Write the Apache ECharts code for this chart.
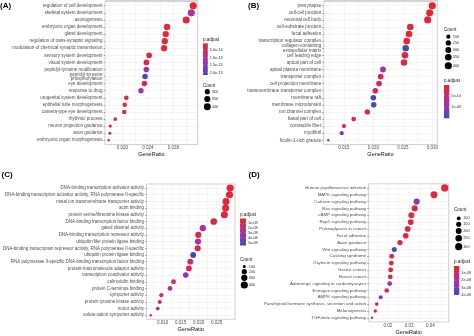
<!DOCTYPE html>
<html><head><meta charset="utf-8">
<script src="https://cdn.jsdelivr.net/npm/echarts@6/dist/echarts.min.js"></script>
<style>html,body{margin:0;padding:0;background:#fff}#c{width:474px;height:336px}</style>
</head><body><div id="c"></div>
<script>
// ---------------- Panel A (GO BP) ----------------
const termsA = ["regulation of cell development","skeletal system development","axonogenesis","embryonic organ development","gland development","regulation of trans-synaptic signaling","modulation of chemical synaptic transmission","sensory system development","visual system development","peptidyl-tyrosine modification","peptidyl-tyrosine\nphosphorylation","eye development","response to drug","urogenital system development","epithelial tube morphogenesis","camera-type eye development","rhythmic process","neuron projection guidance","axon guidance","embryonic organ morphogenesis"];
const ratioA = [0.0311,0.0308,0.0300,0.0270,0.0268,0.02665,0.02654,0.0242,0.02377,0.02377,0.02356,0.02346,0.02293,0.02063,0.02038,0.02031,0.0189,0.01812,0.01807,0.01787];
const countA = [420,416,405,365,362,360,358,327,321,321,318,317,310,279,275,274,255,245,244,241];
const padjA = [1.2e-14,1.05e-13,2.0e-14,1.5e-14,2.5e-14,2.0e-14,1.8e-14,2.5e-14,3.0e-14,1.25e-13,2.05e-13,3.0e-14,1.15e-13,2.5e-14,2.8e-14,3.0e-14,7.5e-14,2.0e-14,2.5e-14,8.5e-14];
const xTicksA = [0.020,0.024,0.028];
const xMinorA = [0.018,0.022,0.026,0.030];
const countBreaksA = [300,350,400];
const padjBreaksA = [5e-14,1e-13,1.5e-13,2e-13];
const padjLabelsA = ["5.0e-14","1.0e-13","1.5e-13","2.0e-13"];

// ---------------- Panel B (GO CC) ----------------
const termsB = ["presynapse","cell-cell junction","neuronal cell body","cell-substrate junction","focal adhesion","transcription regulator complex","collagen-containing\nextracellular matrix","cell leading edge","apical part of cell","apical plasma membrane","transporter complex","cell projection membrane","transmembrane transporter complex","membrane raft","membrane microdomain","ion channel complex","basal part of cell","contractile fiber","myofibril","ficolin-1-rich granule"];
const ratioB = [0.0300,0.02956,0.02922,0.02627,0.02605,0.02566,0.02549,0.02537,0.0252,0.02164,0.02125,0.02097,0.02034,0.0200,0.02007,0.01898,0.01668,0.01503,0.01464,0.01237];
const countB = [405,399,394,355,352,346,344,342,340,292,287,283,275,270,271,256,225,203,198,167];
const padjB = [5e-11,6e-11,8e-11,1.0e-10,1.2e-10,1.5e-10,1.4e-9,2.0e-10,2.2e-10,8.5e-10,3.0e-10,4.0e-10,3.0e-10,1.4e-9,1.38e-9,2.5e-10,3.0e-10,4.5e-10,1.0e-9,1.0e-9];
const xTicksB = [0.015,0.020,0.025,0.030];
const xMinorB = [0.0125,0.0175,0.0225,0.0275];
const countBreaksB = [200,250,300,350,400];
const padjBreaksB = [5e-10,1e-9];
const padjLabelsB = ["5e-10","1e-09"];

// ---------------- Panel C (GO MF) ----------------
const termsC = ["DNA-binding transcription activator activity","DNA-binding transcription activator activity, RNA polymerase II-specific","metal ion transmembrane transporter activity","actin binding","protein serine/threonine kinase activity","DNA-binding transcription factor binding","gated channel activity","DNA-binding transcription repressor activity","ubiquitin-like protein ligase binding","DNA-binding transcription repressor activity, RNA polymerase II-specific","ubiquitin protein ligase binding","RNA polymerase II-specific DNA-binding transcription factor binding","protein-macromolecule adaptor activity","transcription coactivator activity","calmodulin binding","protein C-terminus binding","symporter activity","protein tyrosine kinase activity","motor activity","solute:cation symporter activity"];
const ratioC = [0.02875,0.02857,0.0276,0.0275,0.02715,0.0242,0.02117,0.0199,0.01983,0.01973,0.01849,0.01768,0.01731,0.01643,0.01303,0.01206,0.00965,0.0092,0.00866,0.0067];
const countC = [403,400,386,385,380,339,296,279,278,276,259,248,242,230,182,169,135,129,121,94];
const padjC = [2e-9,3e-9,4e-9,3e-9,5e-9,6e-9,2.8e-8,8e-9,2.8e-8,9e-9,5.4e-8,1.0e-8,1.1e-8,3.8e-8,1.2e-8,3.0e-8,1.2e-8,1.3e-8,2.0e-8,2.2e-8];
const xTicksC = [0.010,0.015,0.020,0.025];
const xMinorC = [0.0075,0.0125,0.0175,0.0225,0.0275];
const countBreaksC = [100,200,300,400];
const padjBreaksC = [1e-8,2e-8,3e-8,4e-8,5e-8];
const padjLabelsC = ["1e-08","2e-08","3e-08","4e-08","5e-08"];

// ---------------- Panel D (KEGG) ----------------
const termsD = ["Human papillomavirus infection","MAPK signaling pathway","Calcium signaling pathway","Ras signaling pathway","cAMP signaling pathway","Rap1 signaling pathway","Proteoglycans in cancer","Focal adhesion","Axon guidance","Wnt signaling pathway","Cushing syndrome","Oxytocin signaling pathway","Gastric cancer","Breast cancer","Adrenergic signaling in cardiomyocytes","Estrogen signaling pathway","AMPK signaling pathway","Parathyroid hormone synthesis, secretion and action","Melanogenesis","TGF-beta signaling pathway"];
const ratioD = [0.04676,0.04171,0.03354,0.0326,0.0310,0.03071,0.0293,0.02835,0.02566,0.02297,0.02175,0.02156,0.02127,0.02109,0.0208,0.01939,0.01656,0.01467,0.0140,0.01245];
const countD = [304,271,218,212,202,200,190,184,167,149,141,140,138,137,135,126,108,95,91,81];
const padjD = [1e-9,2e-9,2.6e-8,6e-9,3e-9,3e-9,4e-9,4e-9,5e-9,3.9e-8,5e-9,5e-9,5e-9,6e-9,2.6e-8,6e-9,2.8e-8,6e-9,6e-9,3.6e-8];
const xTicksD = [0.02,0.03,0.04];
const xMinorD = [0.015,0.025,0.035,0.045];
const countBreaksD = [100,150,200,250,300];
const padjBreaksD = [1e-8,2e-8,3e-8,4e-8];
const padjLabelsD = ["1e-08","2e-08","3e-08","4e-08"];

// ---------------- styling / layout ----------------
const FONT = "Liberation Sans, Arial, sans-serif";
const palette = ['#e4272d','#cf2a62','#b02ea6','#7d3bb5','#3b4dab'];
const panels = [
  {letter:'(A)', lx:0, ly:6, terms:termsA, ratio:ratioA, count:countA, padj:padjA, ticks:xTicksA, minor:xMinorA, dec:3,
   grid:{left:105, top:1.5, width:92.7, height:143}, xmin:0.0173, xmax:0.0318, pmin:6e-15, pmax:2.15e-13, fs:4.5, strip:true,
   pleg:{x:203, ty:40, top:43.3, h:31.7, w:4.8, breaks:padjBreaksA, labels:padjLabelsA},
   cleg:{x:203, ty:85.7, cx:207.3, ys:[91.7,99,106.7], breaks:countBreaksA}},
  {letter:'(B)', lx:248, ly:5.5, terms:termsB, ratio:ratioB, count:countB, padj:padjB, ticks:xTicksB, minor:xMinorB, dec:3,
   grid:{left:323.7, top:1.5, width:113.6, height:143}, xmin:0.01159, xmax:0.03085, pmin:4e-11, pmax:1.47e-9, fs:4.6, strip:true,
   pleg:{x:444, ty:81, top:85, h:33.3, w:5.3, breaks:padjBreaksB, labels:padjLabelsB},
   cleg:{x:444, ty:30, cx:448.3, ys:[36.7,42.9,50,57.3,65.7], breaks:countBreaksB}},
  {letter:'(C)', lx:1.5, ly:175, terms:termsC, ratio:ratioC, count:countC, padj:padjC, ticks:xTicksC, minor:xMinorC, dec:3,
   grid:{left:143.3, top:184, width:91.7, height:135.3}, xmin:0.00553, xmax:0.0301, pmin:0, pmax:5.6e-8, fs:4.45, strip:false,
   pleg:{x:240, ty:214.7, top:218.5, h:27, w:6, breaks:padjBreaksC, labels:padjLabelsC},
   cleg:{x:240, ty:259.7, cx:244.3, ys:[266.5,271.7,277.8,285], breaks:countBreaksC}},
  {letter:'(D)', lx:248.5, ly:175, terms:termsD, ratio:ratioD, count:countD, padj:padjD, ticks:xTicksD, minor:xMinorD, dec:2,
   grid:{left:368.7, top:183.8, width:80, height:140.4}, xmin:0.0109, xmax:0.04864, pmin:1e-10, pmax:4.05e-8, fs:4.4, strip:false,
   pleg:{x:454, ty:261.7, top:266, h:29, w:5.3, breaks:padjBreaksD, labels:padjLabelsD},
   cleg:{x:454, ty:210, cx:458.7, ys:[218.3,224.3,231,238.3,246.7], breaks:countBreaksD}}
];

function sizeScale(counts){
  const lo = Math.min.apply(null, counts), hi = Math.max.apply(null, counts);
  return function(c){ let t = (c - lo) / (hi - lo); t = Math.max(0, Math.min(1, t)); return 2.4 + Math.sqrt(t) * (7.2 - 2.4); };
}

const grids = [], xAxes = [], yAxes = [], series = [], vms = [], graphics = [];
panels.forEach((p, k) => {
  const idx = p.terms.map((_, i) => i);
  const sz = sizeScale(p.count);
  grids.push(Object.assign({show:true, borderColor:'#b0b0b0', borderWidth:0.6, backgroundColor:'#ffffff'}, p.grid));
  xAxes.push({type:'value', gridIndex:k, min:p.xmin, max:p.xmax,
    axisLine:{show:false}, axisTick:{show:false, customValues:p.ticks.concat(p.minor)},
    axisLabel:{customValues:p.ticks, formatter:v => v.toFixed(p.dec), fontSize:4.5, color:'#4d4d4d', margin:1.2, fontFamily:FONT},
    splitLine:{show:true, lineStyle:{color:'#ebebeb', width:0.5}},
    name:'GeneRatio', nameLocation:'middle', nameGap:6, nameTextStyle:{fontSize:5.5, color:'#111', fontFamily:FONT}});
  yAxes.push({type:'value', gridIndex:k, inverse:true, min:-0.6, max:p.terms.length - 0.4,
    axisLine:{show:false}, axisTick:{show:true, length:1.5, customValues:idx, lineStyle:{color:'#444', width:0.5}},
    axisLabel:{customValues:idx, formatter:v => p.terms[Math.round(v)], fontSize:p.fs, lineHeight:p.fs, color:'#4d4d4d', margin:2.5, fontFamily:FONT},
    splitLine:{show:true, lineStyle:{color:'#ebebeb', width:0.5}}});
  series.push({type:'scatter', xAxisIndex:k, yAxisIndex:k,
    data:p.terms.map((t, i) => [p.ratio[i], i, p.count[i], p.padj[i]]),
    symbolSize:v => sz(v[2]), itemStyle:{opacity:1}, emphasis:{disabled:true}});
  vms.push({type:'continuous', show:false, seriesIndex:k, dimension:3, min:p.pmin, max:p.pmax, inRange:{color:palette}});
  graphics.push({type:'text', x:p.lx, y:p.ly, style:{text:p.letter, fontSize:8, fontWeight:'bold', fontFamily:FONT, fill:'#000', verticalAlign:'middle', align:'left'}});
  if (p.strip) graphics.push({type:'rect', shape:{x:p.grid.left, y:0, width:p.grid.width, height:1.5}, style:{fill:'#d4d4d4'}});
  const L = p.pleg;
  graphics.push({type:'text', x:L.x, y:L.ty, style:{text:'p.adjust', fontSize:4.6, fontFamily:FONT, fill:'#222', verticalAlign:'middle', align:'left'}});
  graphics.push({type:'rect', shape:{x:L.x, y:L.top, width:L.w, height:L.h},
    style:{fill:new echarts.graphic.LinearGradient(0,0,0,1, palette.map((c,i)=>({offset:i/(palette.length-1), color:c})))}});
  L.breaks.forEach((b, i) => {
    const yy = L.top + (b - p.pmin) / (p.pmax - p.pmin) * L.h;
    graphics.push({type:'line', shape:{x1:L.x, y1:yy, x2:L.x + 1, y2:yy}, style:{stroke:'#fff', lineWidth:0.4}});
    graphics.push({type:'line', shape:{x1:L.x + L.w - 1, y1:yy, x2:L.x + L.w, y2:yy}, style:{stroke:'#fff', lineWidth:0.4}});
    graphics.push({type:'text', x:L.x + L.w + 2, y:yy, style:{text:L.labels[i], fontSize:3.8, fontFamily:FONT, fill:'#333', verticalAlign:'middle', align:'left'}});
  });
  const C = p.cleg;
  graphics.push({type:'text', x:C.x, y:C.ty, style:{text:'Count', fontSize:4.6, fontFamily:FONT, fill:'#222', verticalAlign:'middle', align:'left'}});
  C.breaks.forEach((b, i) => {
    graphics.push({type:'circle', shape:{cx:C.cx, cy:C.ys[i], r:sz(b) / 2}, style:{fill:'#000'}});
    graphics.push({type:'text', x:C.cx + 4.5, y:C.ys[i], style:{text:String(b), fontSize:3.8, fontFamily:FONT, fill:'#333', verticalAlign:'middle', align:'left'}});
  });
});

const chart = echarts.init(document.getElementById('c'), null, {renderer:'canvas'});
chart.setOption({animation:false, backgroundColor:'#fff', textStyle:{fontFamily:FONT},
  grid:grids, xAxis:xAxes, yAxis:yAxes, series:series, visualMap:vms, graphic:graphics});
</script></body></html>
